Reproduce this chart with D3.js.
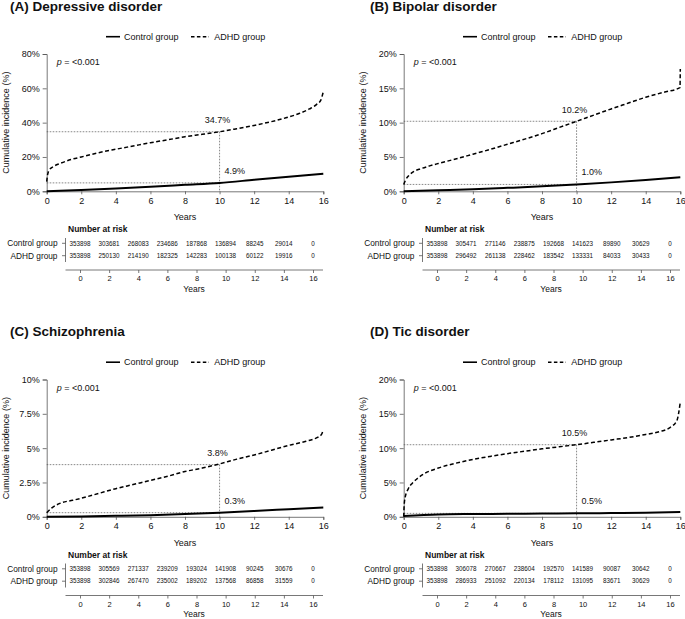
<!DOCTYPE html>
<html>
<head>
<meta charset="utf-8">
<script src="https://cdn.jsdelivr.net/npm/d3@7"></script>
<style>
  body { margin: 0; background: #fff; }
  svg text { font-family: "Liberation Sans", Arial, sans-serif; fill: #111; }
</style>
</head>
<body>
<div class="area"></div>
<script>
const W = 685, H = 619
const font = '"Liberation Sans", Arial, sans-serif'

// ---- data ----
const titles = ["(A) Depressive disorder", "(B) Bipolar disorder", "(C) Schizophrenia", "(D) Tic disorder"]
const seriesNames = ["Control group", "ADHD group"]

const ctrlTime = [0, 2, 4, 6, 8, 10, 12, 14, 16]

const depTime = [0, 0.05, 0.15, 0.4, 0.8, 1.4, 2, 3, 4, 5, 6, 7, 8, 9, 10, 11, 12, 13, 14, 14.6, 15.2, 15.6, 15.85, 16]
const depAdhd = [5.6, 9.5, 12.4, 14.5, 16.3, 18.5, 20.0, 22.5, 24.5, 26.4, 28.3, 30.0, 31.8, 33.2, 34.7, 36.5, 38.4, 40.6, 43.3, 45.3, 48.0, 50.5, 53.0, 58.0]
const depCtrl = [0, 0.8, 1.7, 2.7, 3.8, 4.9, 6.7, 8.5, 10.2]

const bipTime = [0, 0.1, 0.3, 0.6, 1, 1.5, 2, 3, 4, 5, 6, 7, 8, 9, 10, 11, 12, 13, 14, 15, 15.98, 16]
const bipAdhd = [1.0, 1.6, 2.3, 2.9, 3.3, 3.7, 4.05, 4.7, 5.4, 6.1, 6.85, 7.6, 8.4, 9.3, 10.2, 11.1, 12.0, 12.85, 13.7, 14.4, 15.1, 17.8]
const bipCtrl = [0, 0.15, 0.3, 0.5, 0.72, 1.0, 1.3, 1.65, 2.05]

const schTime = [0, 0.3, 0.8, 1.5, 2, 3, 4, 5, 6, 7, 8, 9, 10, 11, 12, 13, 14, 15, 15.6, 15.9, 16]
const schAdhd = [0.3, 0.65, 1.0, 1.2, 1.35, 1.7, 2.05, 2.35, 2.65, 2.95, 3.3, 3.55, 3.85, 4.2, 4.5, 4.85, 5.2, 5.5, 5.75, 6.0, 6.35]
const schCtrl = [0, 0.03, 0.07, 0.12, 0.2, 0.3, 0.42, 0.55, 0.68]

const ticTime = [0, 0.03, 0.1, 0.25, 0.5, 0.8, 1.2, 2, 3, 4, 5, 6, 7, 8, 9, 10, 11, 12, 13, 14, 14.8, 15.4, 15.8, 16]
const ticAdhd = [0, 1.8, 3.0, 4.0, 4.9, 5.6, 6.3, 7.1, 7.8, 8.35, 8.8, 9.2, 9.55, 9.9, 10.2, 10.5, 10.85, 11.2, 11.55, 12.0, 12.4, 13.0, 14.0, 16.7]
const ticCtrl = [0.1, 0.35, 0.4, 0.43, 0.47, 0.5, 0.55, 0.6, 0.7]

// incidence at 10 years [control, adhd]
const at10 = [[4.9, 34.7], [1.0, 10.2], [0.3, 3.8], [0.5, 10.5]]

const yTicks = [
  [0, 20, 40, 60, 80],
  [0, 5, 10, 15, 20],
  [0, 2.5, 5, 7.5, 10],
  [0, 5, 10, 15, 20]
]
const xTicks = [0, 2, 4, 6, 8, 10, 12, 14, 16]
const pText = "<0.001"

const riskCtrl = [
  [353898, 303681, 268083, 234686, 187868, 136894, 88245, 29014, 0],
  [353898, 305471, 271146, 238875, 192668, 141623, 89890, 30629, 0],
  [353898, 305569, 271337, 239209, 193024, 141908, 90245, 30676, 0],
  [353898, 306078, 270667, 238604, 192570, 141589, 90087, 30642, 0]
]
const riskAdhd = [
  [353898, 250130, 214190, 182325, 142283, 100138, 60122, 19916, 0],
  [353898, 296492, 261138, 228462, 183542, 133331, 84033, 30433, 0],
  [353898, 302846, 267470, 235002, 189202, 137568, 86858, 31559, 0],
  [353898, 286933, 251092, 220134, 178112, 131095, 83671, 30629, 0]
]

const adhdTimes = [depTime, bipTime, schTime, ticTime]
const adhdVals = [depAdhd, bipAdhd, schAdhd, ticAdhd]
const ctrlVals = [depCtrl, bipCtrl, schCtrl, ticCtrl]

// ---- layout ----
const panelX = [0, 357, 0, 357]
const panelY = [0, 0, 325.5, 325.5]
const titleX = [10, 13, 10, 13]
const plotL = 46.7, plotR = 323.3, plotT = 54, plotB = 191.3
const tabL = 80, tabR = 313

const svg = d3.select(".area").append("svg")
  .attr("width", W).attr("height", H)
  .attr("viewBox", [0, 0, W, H])

function fmtPct(v) { return v + "%" }

titles.forEach((title, i) => {
  const g = svg.append("g").attr("transform", `translate(${panelX[i]}, ${panelY[i]})`)
  const ymax = yTicks[i][yTicks[i].length - 1]

  const x = d3.scaleLinear().domain([0, 16]).range([plotL, plotR])
  const y = d3.scaleLinear().domain([0, ymax]).range([plotB, plotT])

  g.append("text").attr("x", titleX[i]).attr("y", 10.5)
    .attr("font-size", 13.5).attr("font-weight", "bold").text(title)

  // legend
  const lg = g.append("g").attr("font-size", 9)
  lg.append("line").attr("x1", 106).attr("x2", 120).attr("y1", 36.7).attr("y2", 36.7)
    .attr("stroke", "#000").attr("stroke-width", 1.6)
  lg.append("text").attr("x", 124).attr("y", 39.8).text(seriesNames[0])
  lg.append("line").attr("x1", 191).attr("x2", 209).attr("y1", 36.7).attr("y2", 36.7)
    .attr("stroke", "#000").attr("stroke-width", 1.4).attr("stroke-dasharray", "3.5,2.4")
  lg.append("text").attr("x", 214.3).attr("y", 39.8).text(seriesNames[1])

  // axes
  const yAxis = g.append("g").attr("transform", `translate(${plotL},0)`)
    .call(d3.axisLeft(y).tickValues(yTicks[i]).tickFormat(fmtPct).tickSize(4).tickPadding(3))
  const xAxis = g.append("g").attr("transform", `translate(0,${plotB})`)
    .call(d3.axisBottom(x).tickValues(xTicks).tickSize(3).tickPadding(3))
  ;[yAxis, xAxis].forEach(a => {
    a.selectAll("text").attr("font-size", 9).attr("font-family", font).attr("fill", "#111")
    a.selectAll("line,path").attr("stroke", "#555").attr("stroke-width", 0.8)
  })

  g.append("text").attr("transform", `translate(8.5,${(plotT + plotB) / 2}) rotate(-90)`)
    .attr("text-anchor", "middle").attr("font-size", 9).text("Cumulative incidence (%)")
  g.append("text").attr("x", (plotL + plotR) / 2).attr("y", 220)
    .attr("text-anchor", "middle").attr("font-size", 9).text("Years")

  g.append("text").attr("x", plotL + 10).attr("y", 65).attr("font-size", 9)
    .call(t => {
      t.append("tspan").attr("font-style", "italic").text("p")
      t.append("tspan").text(" = " + pText)
    })

  // 10-year reference lines
  const ref = g.append("g").attr("stroke", "#555").attr("stroke-width", 0.7)
    .attr("stroke-dasharray", "1.6,1.4").attr("fill", "none")
  at10[i].forEach(v => {
    ref.append("line").attr("x1", x(0)).attr("x2", x(10)).attr("y1", y(v)).attr("y2", y(v))
  })
  ref.append("line").attr("x1", x(10)).attr("x2", x(10)).attr("y1", y(at10[i][1])).attr("y2", y(0))

  g.append("text").attr("x", x(10) - 2).attr("y", y(at10[i][1]) - 8.5)
    .attr("text-anchor", "middle").attr("font-size", 9).text(at10[i][1].toFixed(1) + "%")
  g.append("text").attr("x", x(10) + 5).attr("y", y(at10[i][0]) - 9)
    .attr("font-size", 9).text(at10[i][0].toFixed(1) + "%")

  // curves
  const line = d3.line().x(d => x(d[0])).y(d => y(d[1])).curve(d3.curveMonotoneX)
  const ctrlData = ctrlTime.map((t, k) => [t, ctrlVals[i][k]])
  const adhdData = adhdTimes[i].map((t, k) => [t, adhdVals[i][k]])

  g.append("path").datum(ctrlData).attr("d", line)
    .attr("fill", "none").attr("stroke", "#000").attr("stroke-width", 2)
  g.append("path").datum(adhdData).attr("d", line)
    .attr("fill", "none").attr("stroke", "#000").attr("stroke-width", 1.5)
    .attr("stroke-dasharray", "4,2.5")

  // number at risk table
  const tx = d3.scaleLinear().domain([0, 16]).range([tabL, tabR])
  g.append("text").attr("x", 68).attr("y", 232).attr("font-size", 8.5)
    .attr("font-weight", "bold").text("Number at risk")

  const rows = [riskCtrl[i], riskAdhd[i]]
  const rowY = [243.3, 255.7]
  g.append("line").attr("x1", 65.5).attr("x2", 65.5).attr("y1", 238).attr("y2", 262)
    .attr("stroke", "#555").attr("stroke-width", 0.8)
  rows.forEach((r, k) => {
    g.append("text").attr("x", 57.5).attr("y", rowY[k] + 3).attr("text-anchor", "end")
      .attr("font-size", 8.3).text(seriesNames[k])
    g.append("line").attr("x1", 62).attr("x2", 65.5).attr("y1", rowY[k]).attr("y2", rowY[k])
      .attr("stroke", "#555").attr("stroke-width", 0.8)
    g.selectAll(null).data(r).enter().append("text")
      .attr("x", (d, j) => tx(xTicks[j]))
      .attr("y", rowY[k] + 2.2)
      .attr("text-anchor", "middle").attr("font-size", 6.3)
      .text(d => d)
  })

  const tAxis = g.append("g").attr("transform", `translate(0,270)`)
    .call(d3.axisBottom(tx).tickValues(xTicks).tickSize(3).tickPadding(3).tickSizeOuter(0))
  tAxis.select(".domain").attr("d", `M65.5,0H323`)
  tAxis.selectAll("text").attr("font-size", 7.5).attr("font-family", font).attr("fill", "#111")
  tAxis.selectAll("line,path").attr("stroke", "#555").attr("stroke-width", 0.8)

  g.append("text").attr("x", (65 + 323) / 2).attr("y", 291.5)
    .attr("text-anchor", "middle").attr("font-size", 8.5).text("Years")
})
</script>
</body>
</html>
